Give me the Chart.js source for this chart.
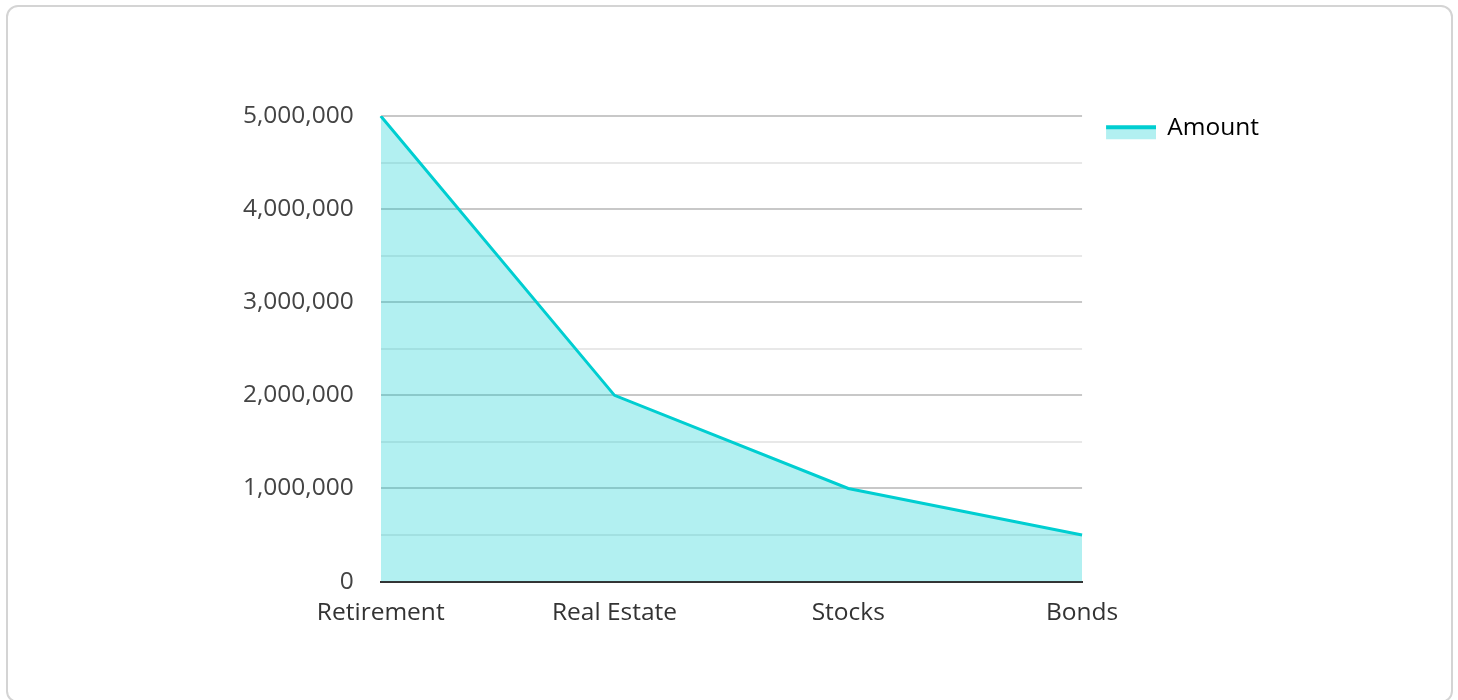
<!DOCTYPE html>
<html>
<head>
<meta charset="utf-8">
<script src="https://cdn.jsdelivr.net/npm/chart.js@4.4.1/dist/chart.umd.min.js"></script>
<style>
  html, body { margin: 0; padding: 0; background: #fff; overflow: hidden; }
  #card { position: absolute; left: 6px; top: 5px; width: 1443px; height: 694px;
          border: 2px solid #d4d4d4; border-radius: 12px; box-sizing: content-box; }
  #wrap { position: absolute; left: 0; top: 0; width: 1458px; height: 700px; }
</style>
</head>
<body>
<div id="card"></div>
<div id="wrap"><canvas id="c"></canvas></div>
<script>
const categories = ['Retirement', 'Real Estate', 'Stocks', 'Bonds'];
const amountValues = [5000000, 2000000, 1000000, 500000];
const seriesName = 'Amount';
const yMax = 5000000;
const yStep = 500000;
const labelStep = 1000000;

const lineColor = '#00CED1';
const fillColor = 'rgba(0,206,209,0.3)';

// legend swatch: transparent gap on the left, fill with a line on top, placed low
const sw = document.createElement('canvas');
sw.width = 75; sw.height = 24;
const sctx = sw.getContext('2d');
sctx.fillStyle = fillColor;
sctx.fillRect(25, 9, 50, 14);
sctx.fillStyle = lineColor;
sctx.fillRect(25, 9, 50, 4);

Chart.defaults.font.family = '"Open Sans", "Noto Sans", sans-serif';
Chart.defaults.font.size = 24.5;
Chart.defaults.color = '#444';

new Chart(document.getElementById('c'), {
  type: 'line',
  data: {
    labels: categories,
    datasets: [{
      label: seriesName,
      data: amountValues,
      borderColor: lineColor,
      backgroundColor: fillColor,
      borderWidth: 3,
      fill: 'origin',
      pointRadius: 0,
      tension: 0
    }]
  },
  options: {
    responsive: true,
    maintainAspectRatio: false,
    animation: false,
    layout: { padding: { left: 216, right: 189, top: 116, bottom: 55 } },
    plugins: {
      legend: {
        position: 'right',
        align: 'start',
        labels: {
          usePointStyle: true,
          pointStyleWidth: 73,
          boxHeight: 24,
          padding: 0,
          color: '#333',
          generateLabels: (chart) => [{
            text: seriesName,
            pointStyle: sw,
            fillStyle: fillColor,
            strokeStyle: lineColor,
            lineWidth: 0,
            datasetIndex: 0,
            hidden: false
          }]
        }
      },
      tooltip: { enabled: false }
    },
    scales: {
      x: {
        offset: false,
        grid: { display: false, drawTicks: false },
        border: { display: true, color: '#333', width: 2 },
        ticks: { padding: 17, color: '#333' }
      },
      y: {
        min: 0,
        max: yMax,
        grid: {
          drawTicks: false,
          lineWidth: 2,
          color: (ctx) => (ctx.tick && ctx.tick.value % labelStep === 0) ? '#c8c8c8' : '#e8e8e8'
        },
        border: { display: false },
        ticks: {
          stepSize: yStep,
          padding: 27,
          color: '#444',
          callback: (v) => (v % labelStep === 0) ? Number(v).toLocaleString('en-US') : ''
        }
      }
    }
  }
});
</script>
</body>
</html>
